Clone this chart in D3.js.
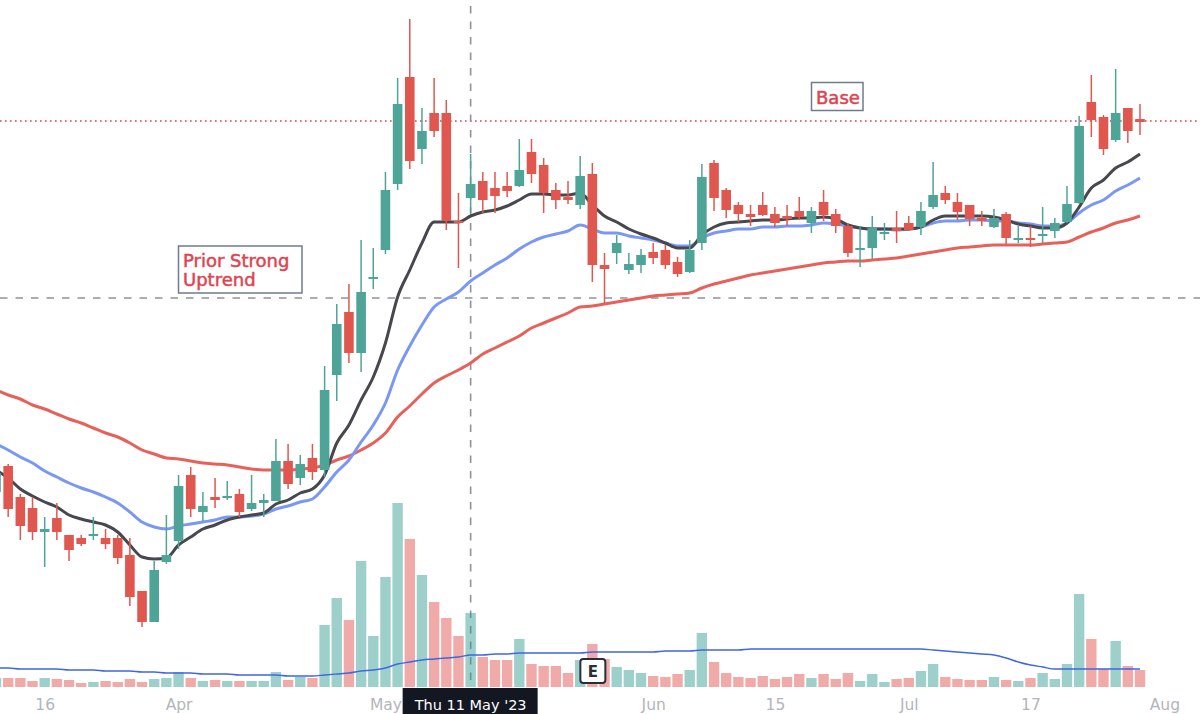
<!DOCTYPE html>
<html>
<head>
<meta charset="utf-8">
<script src="https://cdn.jsdelivr.net/npm/d3@7"></script>
<style>
  html, body { margin: 0; padding: 0; background: #fff; overflow: hidden; }
  text { font-family: "DejaVu Sans", sans-serif; }
</style>
</head>
<body>
<div id="chart"></div>
<script>
// candle values, one per trading day
var open = [14.8,17.4,14.3,13.2,10.8,12.2,10.5,10.2,10.5,10.2,10.2,8.5,4.9,1.8,7.8,9.9,16.5,12.8,14.3,14.2,14.6,13.1,13.7,13.9,17.9,16.2,18.2,17.0,26.5,32.8,28.7,36.1,39.0,45.6,56.3,49.1,52.7,52.7,41.9,44.2,45.9,45.2,45.4,45.4,48.8,47.5,45.0,44.3,43.5,46.6,37.5,38.7,37.0,37.5,38.8,39.0,37.8,36.8,39.7,47.7,45.0,43.5,42.6,43.5,42.6,42.4,42.9,41.7,43.8,42.6,41.4,39.0,39.2,40.6,41.2,41.7,41.3,43.3,44.7,43.8,43.5,42.2,41.3,42.6,40.0,40.2,40.4,40.9,41.8,43.7,53.8,52.3,50.0,53.2,52.1];
var high = [16.9,17.6,14.6,14.3,12.3,13.7,10.5,10.5,12.3,11.1,10.5,10.2,4.9,7.9,12.5,16.5,17.3,14.8,16.2,15.9,15.1,16.5,14.6,20.1,19.6,18.5,19.6,27.4,33.6,35.6,40.0,39.2,46.8,56.2,62.1,53.2,56.2,54.0,44.7,48.6,46.8,46.8,46.8,50.1,50.1,48.2,45.7,45.9,48.4,47.7,38.7,40.5,38.7,39.1,39.7,39.5,38.3,40.0,47.6,48.0,45.2,43.8,43.5,44.8,43.3,43.5,44.3,43.3,45.0,43.1,41.7,41.4,42.4,41.7,42.9,42.4,43.8,47.8,45.4,44.7,43.5,42.9,43.1,42.8,41.4,41.4,43.3,42.2,45.4,52.4,56.5,52.5,57.1,53.2,53.6];
var low = [14.5,12.3,10.0,10.0,7.3,10.0,7.9,9.4,10.0,9.1,7.6,3.4,1.3,1.8,7.6,9.1,12.3,11.9,13.2,14.0,12.3,12.9,12.3,13.9,15.1,15.5,16.0,16.3,23.9,27.7,26.8,35.1,38.6,45.0,47.1,47.6,50.3,41.0,37.2,42.7,42.7,42.7,44.3,45.3,45.7,42.7,43.1,43.6,43.1,35.8,33.6,37.6,36.6,36.7,37.6,37.1,36.3,36.7,39.0,42.9,42.2,41.8,41.4,42.4,41.3,41.4,42.0,40.7,41.9,40.7,38.3,37.3,38.1,40.0,39.7,40.9,40.5,43.1,43.6,42.0,41.4,41.4,41.2,39.5,39.7,39.3,39.7,40.2,41.7,43.6,50.3,48.5,49.8,49.7,50.5];
var close = [16.7,13.1,11.4,10.8,11.1,10.8,9.0,9.6,10.6,9.6,8.2,4.3,1.8,7.0,8.5,15.4,13.1,13.4,14.0,14.4,12.8,13.7,14.0,17.9,15.6,17.6,16.8,25.0,31.6,28.7,34.8,36.3,45.0,53.6,47.9,50.9,50.9,41.9,41.7,45.6,44.0,44.4,44.9,47.0,46.6,44.7,44.0,44.0,46.4,37.5,37.1,39.7,37.6,38.5,38.2,37.5,36.6,39.0,46.3,44.2,43.0,42.6,42.3,42.5,41.7,42.1,42.3,42.9,42.5,41.4,38.7,39.2,41.2,40.8,40.9,41.0,42.9,44.5,44.0,42.8,42.1,41.9,42.2,40.2,40.2,40.0,40.6,41.7,43.6,51.4,52.0,49.1,52.7,50.9,51.8];
var volume = [0.9,0.9,0.9,0.6,0.9,0.8,0.7,0.4,0.5,0.6,0.5,0.8,0.5,0.8,0.9,1.5,0.9,0.6,0.7,0.6,0.6,0.6,0.6,1.5,0.7,1.0,0.9,6.2,8.9,6.7,12.6,5.1,11.0,18.4,14.8,11.2,8.5,6.9,5.1,7.4,3.0,2.7,2.7,4.8,2.3,2.1,2.1,1.4,2.7,4.3,2.8,2.0,1.7,1.4,1.1,1.0,1.3,1.7,5.4,2.5,1.4,1.0,0.9,1.1,0.8,1.0,1.3,0.9,1.3,0.8,1.4,0.6,1.3,0.5,0.8,0.9,1.6,2.3,1.0,0.8,0.7,0.7,1.0,0.7,0.6,0.9,1.4,0.8,2.3,9.3,4.8,1.8,4.6,2.1,1.7];

// moving averages
var maFast = [17.0,16.2,15.1,14.4,13.8,13.3,12.5,12.1,11.8,11.5,10.8,9.5,8.3,8.1,8.2,9.5,10.3,11.1,11.5,12.0,12.3,12.5,12.7,13.6,14.0,14.7,15.1,16.5,19.7,21.5,24.0,26.3,29.7,34.3,37.0,39.7,41.8,41.8,41.8,42.4,42.8,43.0,43.4,44.0,44.6,44.6,44.5,44.5,44.7,43.5,42.4,41.8,41.1,40.6,40.2,39.7,39.2,39.2,40.5,41.3,41.7,41.8,41.9,42.0,42.0,42.1,42.2,42.2,42.3,42.1,41.5,41.2,41.1,41.1,41.1,41.1,41.3,42.0,42.4,42.4,42.4,42.4,42.3,42.0,41.6,41.4,41.2,41.2,41.7,43.3,45.2,46.0,47.2,47.8,48.6];
var maMid = [19.6,19.0,18.3,17.7,16.9,16.3,15.7,15.2,14.8,14.3,13.7,12.8,11.8,11.3,11.1,11.4,11.6,11.8,12.0,12.3,12.3,12.4,12.6,13.1,13.4,13.8,14.1,15.3,16.8,18.0,19.8,21.5,23.7,27.0,29.4,31.5,33.3,34.1,34.8,35.9,36.7,37.5,38.2,39.1,39.8,40.3,40.6,40.9,41.5,41.1,40.7,40.7,40.4,40.2,40.0,39.7,39.4,39.4,40.2,40.7,40.9,41.1,41.1,41.3,41.3,41.4,41.4,41.5,41.7,41.6,41.4,41.2,41.1,41.1,41.0,41.1,41.3,41.7,41.9,41.9,42.0,42.0,41.9,41.9,41.7,41.6,41.4,41.4,41.7,42.7,43.5,44.0,44.9,45.5,46.2];
var maSlow = [25.0,24.5,24.1,23.5,23.1,22.6,22.1,21.7,21.2,20.7,20.3,19.7,19.0,18.6,18.2,18.1,17.9,17.7,17.6,17.5,17.3,17.1,17.0,17.0,17.0,17.1,17.2,17.5,18.0,18.4,19.0,19.7,20.7,22.3,23.4,24.6,25.7,26.4,27.0,27.7,28.6,29.2,29.8,30.4,31.2,31.7,32.2,32.7,33.3,33.4,33.6,33.8,34.0,34.2,34.4,34.5,34.6,34.7,35.2,35.6,35.9,36.2,36.5,36.7,36.9,37.1,37.3,37.5,37.7,37.8,37.9,37.9,38.0,38.1,38.2,38.4,38.6,38.8,39.0,39.2,39.3,39.4,39.5,39.5,39.5,39.5,39.6,39.7,39.8,40.3,40.8,41.2,41.7,42.0,42.4];
var volumeMa = [1.9,1.9,1.8,1.8,1.8,1.8,1.7,1.7,1.7,1.6,1.6,1.6,1.5,1.5,1.4,1.4,1.4,1.3,1.3,1.3,1.2,1.2,1.2,1.2,1.1,1.1,1.1,1.2,1.3,1.4,1.6,1.7,1.9,2.3,2.5,2.7,2.8,2.9,3.0,3.2,3.2,3.3,3.3,3.4,3.4,3.4,3.4,3.4,3.4,3.5,3.5,3.5,3.5,3.5,3.5,3.6,3.6,3.6,3.7,3.7,3.7,3.7,3.8,3.8,3.8,3.8,3.8,3.8,3.8,3.8,3.8,3.8,3.8,3.8,3.8,3.8,3.8,3.7,3.6,3.5,3.4,3.3,3.2,2.9,2.5,2.2,2.0,1.8,1.8,1.8,1.8,1.8,1.8,1.8,1.8];

// x axis
var tickBars = [4,15,32,54,64,75,85,96];
var tickLabels = ["16","Apr","May","Jun","15","Jul","17","Aug"];

// crosshair and levels
var crossBar = 39;
var crossLabel = "Thu 11 May '23";
var crossPrice = 34.2;
var baseLevel = 51.9;
var earningsBar = 49;

var width = 1200;
var height = 714;

var svg = d3.select("#chart")
    .append("svg")
    .attr("width", width)
    .attr("height", height);

var xScale = d3.scaleLinear().domain([0, 94]).range([-4, 1140]);
var yScale = d3.scaleLinear().domain([0, 64]).range([640, 0]);
var volScale = d3.scaleLinear().domain([0, d3.max(volume)]).range([687, 503]);

var green = "#4fa498";
var red = "#e0574f";
var bars = d3.range(open.length);

function isUp(i) {
    return close[i] >= open[i];
}

// level lines sit under everything
svg.append("line")
    .attr("x1", 0).attr("x2", width)
    .attr("y1", yScale(baseLevel)).attr("y2", yScale(baseLevel))
    .attr("stroke", "#e0404c")
    .attr("stroke-width", 1.4)
    .attr("stroke-dasharray", "1.6 3.4");

svg.append("line")
    .attr("x1", 0).attr("x2", width)
    .attr("y1", yScale(crossPrice)).attr("y2", yScale(crossPrice))
    .attr("stroke", "#90939b")
    .attr("stroke-width", 1.4)
    .attr("stroke-dasharray", "7.5 8");

svg.append("line")
    .attr("x1", xScale(crossBar)).attr("x2", xScale(crossBar))
    .attr("y1", 6).attr("y2", 688)
    .attr("stroke", "#90939b")
    .attr("stroke-width", 1.6)
    .attr("stroke-dasharray", "7.5 8");

// volume
svg.append("g").selectAll("rect")
    .data(bars)
    .enter()
    .append("rect")
    .attr("x", function(i) { return xScale(i) - 5.2; })
    .attr("width", 10.4)
    .attr("y", function(i) { return volScale(volume[i]); })
    .attr("height", function(i) { return volScale(0) - volScale(volume[i]); })
    .attr("fill", function(i) { return isUp(i) ? "rgba(40,150,140,0.45)" : "rgba(224,80,75,0.48)"; });

var volLine = d3.line()
    .curve(d3.curveMonotoneX)
    .x(function(d, i) { return xScale(i); })
    .y(function(d) { return volScale(d); });

svg.append("path")
    .attr("d", volLine(volumeMa))
    .attr("fill", "none")
    .attr("stroke", "#3f66e4")
    .attr("stroke-width", 1.4);

// price moving averages, under the candles
var maLine = d3.line()
    .curve(d3.curveMonotoneX)
    .x(function(d, i) { return xScale(i); })
    .y(function(d) { return yScale(d); });

var maSeries = [
    { values: maSlow, color: "#e8605a" },
    { values: maMid, color: "#7a98f3" },
    { values: maFast, color: "#46484e" }
];

svg.append("g").selectAll("path")
    .data(maSeries)
    .enter()
    .append("path")
    .attr("d", function(d) { return maLine(d.values); })
    .attr("fill", "none")
    .attr("stroke", function(d) { return d.color; })
    .attr("stroke-width", 3)
    .attr("stroke-linejoin", "round");

// candles
var candles = svg.append("g").selectAll("g")
    .data(bars)
    .enter()
    .append("g");

candles.append("line")
    .attr("x1", function(i) { return xScale(i); })
    .attr("x2", function(i) { return xScale(i); })
    .attr("y1", function(i) { return yScale(high[i]); })
    .attr("y2", function(i) { return yScale(low[i]); })
    .attr("stroke", function(i) { return isUp(i) ? green : red; })
    .attr("stroke-width", 1.5);

candles.append("rect")
    .attr("x", function(i) { return xScale(i) - 4.8; })
    .attr("width", 9.6)
    .attr("y", function(i) { return yScale(Math.max(open[i], close[i])); })
    .attr("height", function(i) { return Math.max(2, Math.abs(yScale(open[i]) - yScale(close[i]))); })
    .attr("fill", function(i) { return isUp(i) ? green : red; });

// x axis, no domain or tick marks
var xAxis = d3.axisBottom(xScale)
    .tickValues(tickBars)
    .tickSize(0)
    .tickPadding(0)
    .tickFormat(function(d, i) { return tickLabels[i]; });

var axisGroup = svg.append("g")
    .attr("transform", "translate(0, 696)")
    .call(xAxis);
axisGroup.select(".domain").remove();
axisGroup.selectAll("text")
    .attr("fill", "#b3b5ba")
    .attr("font-size", 15.5)
    .attr("y", 3);

// annotations
function noteBox(x, y, w, h, lines) {
    svg.append("rect")
        .attr("x", x).attr("y", y)
        .attr("width", w).attr("height", h)
        .attr("fill", "#fff")
        .attr("stroke", "#6f7b8c")
        .attr("stroke-width", 1.5);
    lines.forEach(function(t, i) {
        svg.append("text")
            .attr("x", x + 4.5)
            .attr("y", y + 21 + i * 19)
            .attr("fill", "#e0434f")
            .attr("stroke", "#e0434f")
            .attr("stroke-width", 0.5)
            .attr("font-size", 18)
            .text(t);
    });
}
noteBox(178.5, 246, 123.5, 47, ["Prior Strong", "Uptrend"]);
noteBox(811.5, 82.5, 51.5, 28, ["Base"]);

// earnings badge
svg.append("rect")
    .attr("x", xScale(earningsBar) - 12)
    .attr("y", 659)
    .attr("width", 25)
    .attr("height", 24)
    .attr("rx", 3)
    .attr("fill", "#fff")
    .attr("stroke", "#2a2e39")
    .attr("stroke-width", 2);

svg.append("text")
    .attr("x", xScale(earningsBar) + 0.5)
    .attr("y", 677)
    .attr("text-anchor", "middle")
    .attr("fill", "#2a2e39")
    .attr("font-size", 15)
    .attr("font-weight", 600)
    .text("E");

// crosshair date label
svg.append("rect")
    .attr("x", xScale(crossBar) - 68)
    .attr("y", 688)
    .attr("width", 135)
    .attr("height", 26)
    .attr("fill", "#131722");

svg.append("text")
    .attr("x", xScale(crossBar))
    .attr("y", 710)
    .attr("text-anchor", "middle")
    .attr("fill", "#fff")
    .attr("font-size", 14.5)
    .text(crossLabel);
</script>
</body>
</html>
